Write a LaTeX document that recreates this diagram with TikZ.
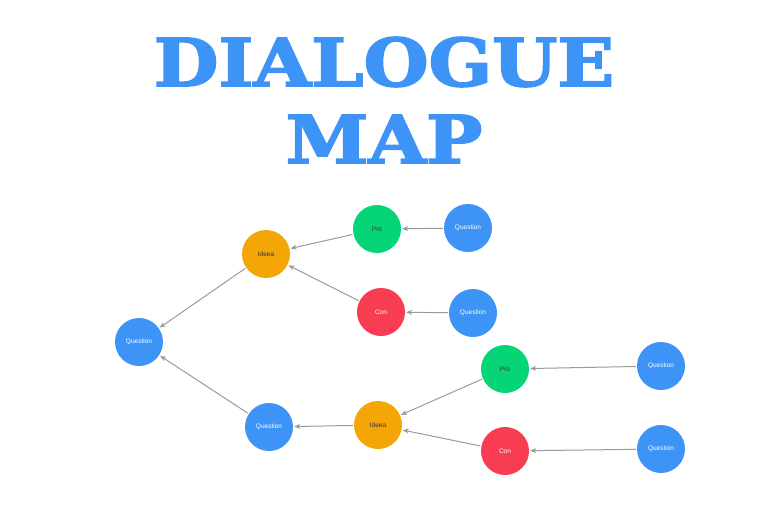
\documentclass[tikz,border=0pt]{standalone}
\usepackage{fontspec}
\setmainfont{Liberation Sans}
\newfontfamily\titlefont[BoldFeatures={FakeBold=2.5}]{DejaVu Serif}
\usetikzlibrary{arrows.meta}
\definecolor{qblue}{HTML}{3D94F6}
\definecolor{ideaorange}{HTML}{F5A607}
\definecolor{progreen}{HTML}{05D577}
\definecolor{conred}{HTML}{F83C52}
\definecolor{linkgray}{HTML}{9A9A9A}
\begin{document}
\begin{tikzpicture}[x=1pt,y=-1pt,
    bubble/.style={circle, minimum size=48pt, inner sep=0pt, font=\fontsize{6.5}{7}\selectfont},
    question/.style={bubble, fill=qblue, text=white},
    idea/.style={bubble, fill=ideaorange, text=black!80},
    pro/.style={bubble, fill=progreen, text=black!80},
    con/.style={bubble, fill=conred, text=white},
    heading/.style={text=qblue, xscale=1.13, font=\titlefont\bfseries\fontsize{66}{66}\selectfont},
    link/.style={-{Stealth[length=6pt,width=5pt]}, linkgray, line width=1pt, shorten >=1pt, shorten <=1pt}
]
\useasboundingbox (0,0) rectangle (768,514);

% title
\node[heading] (title1) at (384,62) {DIALOGUE};
\node[heading] (title2) at (384,139) {MAP};

% nodes
\node[question] (root) at (139,342) {Question};
\node[idea] (idea1) at (266,254) {Ideea};
\node[pro] (pro1) at (377,229) {Pro};
\node[con] (con1) at (381,312) {Con};
\node[question] (q1) at (468,228) {Question};
\node[question] (q2) at (473,313) {Question};
\node[question] (qmid) at (269,427) {Question};
\node[idea] (idea2) at (378,425) {Ideea};
\node[pro] (pro2) at (505,369) {Pro};
\node[con] (con2) at (505,451) {Con};
\node[question] (q3) at (661,366) {Question};
\node[question] (q4) at (661,449) {Question};

% links
\draw[link] (idea1) -- (root);
\draw[link] (qmid) -- (root);
\draw[link] (pro1) -- (idea1);
\draw[link] (con1) -- (idea1);
\draw[link] (q1) -- (pro1);
\draw[link] (q2) -- (con1);
\draw[link] (idea2) -- (qmid);
\draw[link] (pro2) -- (idea2);
\draw[link] (con2) -- (idea2);
\draw[link] (q3) -- (pro2);
\draw[link] (q4) -- (con2);
\end{tikzpicture}
\end{document}
